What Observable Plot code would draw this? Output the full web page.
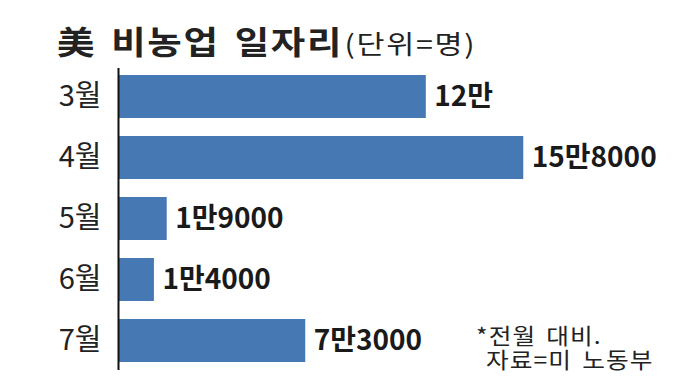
<!DOCTYPE html>
<html><head><meta charset="utf-8">
<script src="https://cdn.jsdelivr.net/npm/d3@7"></script>
<script src="https://cdn.jsdelivr.net/npm/@observablehq/plot@0.6"></script>
<style>
body{margin:0;background:#fff;font-family:"Noto Sans CJK KR","Noto Sans",sans-serif;}
#wrap{position:relative;width:700px;height:392px;overflow:hidden;}
#title{position:absolute;left:57px;top:18px;font-size:32px;line-height:44px;font-weight:700;color:#222;letter-spacing:1.5px;word-spacing:4px;white-space:nowrap;transform:scaleX(1.17);transform-origin:0 0;}
#title span{font-weight:400;font-size:26px;letter-spacing:1.5px;margin-left:1px;}
.note{position:absolute;left:476px;font-size:22px;line-height:24px;color:#222;letter-spacing:1px;word-spacing:3px;white-space:nowrap;transform:scaleX(1.12);transform-origin:0 0;}
</style></head>
<body><div id="wrap"><div id="title">美 비농업 일자리<span>(단위=명)</span></div><div id="chart"></div><div class="note" style="top:322px">*전월 대비.</div><div class="note" style="top:346px">&nbsp;자료=미 노동부</div></div>
<script>
const months = ["3월","4월","5월","6월","7월"];
const values = [120000,158000,19000,14000,73000];
const labels = ["12만","15만8000","1만9000","1만4000","7만3000"];
const data = months.map((m,i)=>({month:m,value:values[i],label:labels[i]}));
const chart = Plot.plot({
  width:700,height:392,
  marginTop:68,marginBottom:22,marginLeft:118,marginRight:69,
  style:{fontFamily:"'Noto Sans CJK KR','Noto Sans',sans-serif",background:"transparent"},
  x:{domain:[0,200000],axis:null},
  y:{domain:months,paddingInner:0.29,paddingOuter:0.085,label:null},
  marks:[
    Plot.barX(data,{x:"value",y:"month",fill:"#4679b3"}),
    Plot.ruleX([0],{stroke:"#111",strokeWidth:2}),
    Plot.axisY({tickSize:0,tickPadding:17,fontSize:29,fill:"#222",label:null}),
    Plot.text(data,{x:"value",y:"month",text:"label",textAnchor:"start",dx:8,fontSize:28,fontWeight:"bold",fill:"#1a1a1a",style:"letter-spacing:-1.5px"})
  ]
});
document.getElementById("chart").appendChild(chart);
</script></body></html>
